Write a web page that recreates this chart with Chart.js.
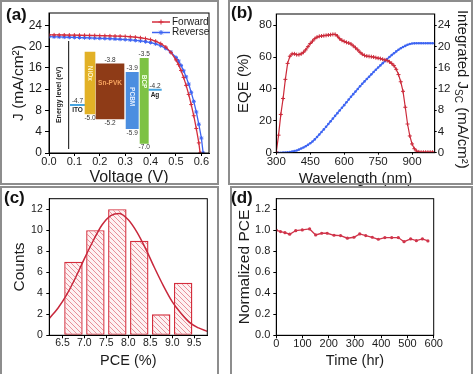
<!DOCTYPE html>
<html>
<head>
<meta charset="utf-8">
<script src="https://cdn.jsdelivr.net/npm/chart.js@4.4.0/dist/chart.umd.min.js"></script>
<style>
  body { margin: 0; background: #fff; width: 474px; height: 374px; overflow: hidden; position: relative; }
  canvas { position: absolute; }
  .frame { position: absolute; border: 2px solid #8d8d8d; box-sizing: border-box; z-index: 5; }
  .tag { position: absolute; z-index: 6; font: bold 17px 'Liberation Sans', Arial, sans-serif; color: #111; line-height: 1; }
</style>
</head>
<body>
<div class="frame" style="left:0;top:0;width:219px;height:185px"></div>
<div class="frame" style="left:228px;top:0;width:245px;height:185px"></div>
<div class="frame" style="left:0;top:186px;width:219px;height:192px"></div>
<div class="frame" style="left:230px;top:186px;width:243px;height:192px"></div>

<canvas id="jv" style="left:0;top:0" width="218" height="190"></canvas>
<canvas id="bands" style="left:52px;top:36px;z-index:2" width="112" height="118"></canvas>
<canvas id="eqe" style="left:229px;top:0" width="244" height="190"></canvas>
<canvas id="hist" style="left:0;top:187px" width="218" height="187"></canvas>
<canvas id="stab" style="left:231px;top:187px" width="242" height="187"></canvas>

<div class="tag" style="left:6px;top:6px">(a)</div>
<div class="tag" style="left:231px;top:4px">(b)</div>
<div class="tag" style="left:4px;top:189px">(c)</div>
<div class="tag" style="left:231px;top:189px">(d)</div>

<script>
// ---- (a) J-V curves ----
const voltF = [0,0.02,0.04,0.06,0.08,0.10,0.12,0.14,0.16,0.18,0.20,0.22,0.24,0.26,0.28,0.30,0.32,0.34,0.36,0.38,0.40,
  0.42,0.44,0.46,0.48,0.50,0.51,0.52,0.53,0.54,0.55,0.56,0.57,0.58,0.59,0.595];
const jForward = [22.2,22.19,22.18,22.17,22.15,22.14,22.12,22.11,22.09,22.07,22.05,22.03,22.0,21.97,21.94,21.9,21.84,21.76,21.65,21.5,21.3,
  21.0,20.55,19.9,18.9,17.5,16.6,15.5,14.2,12.7,11.0,9.1,7.0,4.6,1.9,0];
const voltR = [0,0.02,0.04,0.06,0.08,0.10,0.12,0.14,0.16,0.18,0.20,0.22,0.24,0.26,0.28,0.30,0.32,0.34,0.36,0.38,0.40,
  0.42,0.44,0.46,0.48,0.50,0.51,0.52,0.53,0.54,0.55,0.56,0.57,0.58,0.59,0.60,0.607];
const jReverse = [21.85,21.82,21.8,21.77,21.74,21.71,21.68,21.65,21.62,21.58,21.55,21.51,21.47,21.42,21.37,21.31,21.24,21.15,21.05,20.92,20.75,
  20.5,20.15,19.65,18.95,17.95,17.3,16.45,15.45,14.3,12.95,11.4,9.7,7.7,5.4,2.8,0];
const jvXTicks = ['0.0','0.1','0.2','0.3','0.4','0.5','0.6'];
const jvYTicks = ['0','4','8','12','16','20','24'];

// inset energy diagram (levels as drawn in the sketch, labels as printed)
const bandNames = ['NiOx', 'Sn-PVK', 'PCBM', 'BCP'];
const bandTopLevel = [-3.25, -3.73, -4.08, -3.5];
const bandBottomLevel = [-5.79, -5.99, -6.40, -7.0];
const bandTopLabel = ['', '-3.8', '-3.9', '-3.5'];
const bandBottomLabel = ['-5.0', '-5.2', '-5.9', '-7.0'];
const electrodeNames = ['ITO', 'Ag'];
const electrodeLevel = [-5.42, -4.80];
const electrodeLabel = ['-4.7', '-4.2'];

// ---- (b) EQE and integrated Jsc ----
const wavelength = [300,310,320,330,340,350,360,370,380,390,400,410,420,430,440,450,460,470,480,490,
  500,510,520,530,540,550,560,570,580,590,600,610,620,630,640,650,660,670,680,690,
  700,710,720,730,740,750,760,770,780,790,800,810,820,830,840,850,860,870,880,890,
  900,910,920,930,940,950,960,970,980,990,1000];
const eqe = [0.5,11,24,34,46,56,60.5,62,62,61.5,61.5,62,63,64.5,66.5,68.5,70,71.5,72.5,73,
  73.2,73.4,73.6,73.8,74,74.2,74.2,73.2,71.5,70.5,69.8,69.2,68.8,68.2,67,65.8,64.5,63,61.8,61,
  60.6,60.4,60.2,60,59.6,59.3,59,58.6,58.2,57.8,57,56,54.6,52.3,49,44.5,38.5,28.5,18,10.5,
  5.5,2.5,1,0.5,0.3,0.3,0.3,0.3,0.3,0.3,0.3];
const jscInt = [0,0,0,0.02,0.05,0.08,0.12,0.2,0.3,0.42,0.58,0.78,0.98,1.2,1.48,1.78,2.12,2.5,2.95,3.42,
  3.9,4.38,4.88,5.4,5.9,6.42,6.93,7.44,7.95,8.45,8.95,9.48,10.0,10.52,11.02,11.5,12.0,12.5,12.97,13.42,
  13.87,14.3,14.74,15.18,15.6,16.02,16.43,16.84,17.23,17.62,18.0,18.37,18.72,19.06,19.36,19.65,19.9,20.1,20.3,20.45,
  20.55,20.58,20.6,20.6,20.6,20.6,20.6,20.6,20.6,20.6,20.6];
const eqeXTicks = ['300','450','600','750','900'];
const eqeYTicks = ['0','20','40','60','80'];
const jscYTicks = ['0','4','8','12','16','20','24'];

// ---- (c) PCE histogram ----
const pceBins = [6.75, 7.25, 7.75, 8.25, 8.75, 9.25];
const pceCounts = [7, 10, 12, 9, 2, 5];
const fitPce = [6.2,6.4,6.6,6.8,7.0,7.2,7.4,7.6,7.8,8.0,8.2,8.4,8.6,8.8,9.0,9.2,9.4,9.6,9.8];
const fitCounts = [1.6,2.6,3.9,5.5,7.3,9.0,10.5,11.4,11.6,11.0,9.8,8.2,6.4,4.7,3.2,2.1,1.2,0.7,0.37];
const pceXTicks = ['6.5','7.0','7.5','8.0','8.5','9.0','9.5'];
const countYTicks = ['0','2','4','6','8','10','12'];

// ---- (d) stability ----
const hours = [0,16,33,51,74,99,127,150,173,194,220,245,271,296,318,341,366,389,414,440,465,487,512,534,557,578];
const normPce = [1.0,0.987,0.977,0.962,0.996,1.003,1.012,0.955,0.971,0.971,0.952,0.949,0.924,0.933,0.965,0.949,
  0.933,0.914,0.93,0.93,0.93,0.891,0.917,0.901,0.917,0.898];
const timeXTicks = ['0','100','200','300','400','500','600'];
const normYTicks = ['0.0','0.2','0.4','0.6','0.8','1.0','1.2'];

const FONT = "'Liberation Sans', Arial, Helvetica, sans-serif";
const INK = '#1b1b1b';
const RED = '#d42d3c';
const BLUE = '#3d64f2';

function axis(o) {
  return {
    type: 'linear', position: o.pos, min: o.min, max: o.max, offset: false,
    afterBuildTicks: s => { s.ticks = o.labels.map(t => ({ value: parseFloat(t) })); },
    afterFit: s => {
      if (s.isHorizontal()) s.height = o.fit; else s.width = o.fit;
      s.paddingLeft = 0; s.paddingRight = 0; s.paddingTop = 0; s.paddingBottom = 0;
    },
    ticks: {
      autoSkip: false, maxRotation: 0, padding: o.pad, color: INK,
      font: { family: FONT, size: o.size, lineHeight: 1 },
      callback: (v, i) => o.labels[i]
    },
    grid: { drawOnChartArea: false, drawTicks: true, offset: false, tickLength: o.tl, color: '#000', tickWidth: 1 },
    border: { display: true, color: '#000', width: 1 },
    title: o.title
      ? { display: true, text: o.title, color: INK, font: { family: FONT, size: o.tsize }, padding: o.tpad }
      : { display: false }
  };
}

const base = {
  responsive: false, animation: false, devicePixelRatio: 1,
  plugins: { legend: { display: false }, tooltip: { enabled: false } }
};

// box round the plot area
const frameBox = {
  id: 'frameBox',
  afterDraw(c) {
    const a = c.chartArea, ctx = c.ctx;
    ctx.save();
    ctx.strokeStyle = '#000';
    ctx.lineWidth = 1;
    ctx.strokeRect(a.left, a.top, a.right - a.left, a.bottom - a.top);
    ctx.restore();
  }
};

const jvLegend = {
  id: 'jvLegend',
  afterDraw(c) {
    const ctx = c.ctx;
    ctx.save();
    c.data.datasets.forEach((ds, i) => {
      const y = 22 + i * 10.5;
      ctx.strokeStyle = ds.borderColor;
      ctx.lineWidth = 1.5;
      ctx.beginPath(); ctx.moveTo(152, y); ctx.lineTo(170, y); ctx.stroke();
      if (Chart.helpers && Chart.helpers.drawPoint) {
        ctx.lineWidth = 1;
        Chart.helpers.drawPoint(ctx, { pointStyle: ds.pointStyle, radius: 2.5, borderWidth: 1, rotation: 0 }, 161, y);
      }
      ctx.fillStyle = INK;
      ctx.font = `10px ${FONT}`;
      ctx.textBaseline = 'middle';
      ctx.fillText(ds.label, 172, y);
    });
    ctx.restore();
  }
};

new Chart(document.getElementById('jv'), {
  type: 'line',
  data: {
    datasets: [
      { label: 'Forward', data: voltF.map((v, i) => ({ x: v, y: jForward[i] })),
        borderColor: RED, backgroundColor: RED, borderWidth: 1.3, pointStyle: 'cross',
        pointRadius: 2, pointBorderWidth: 1, pointBorderColor: RED },
      { label: 'Reverse', data: voltR.map((v, i) => ({ x: v, y: jReverse[i] })),
        borderColor: BLUE, backgroundColor: BLUE, borderWidth: 1.3, pointStyle: 'star',
        pointRadius: 2, pointBorderWidth: 1, pointBorderColor: BLUE }
    ]
  },
  options: {
    ...base,
    layout: { padding: { left: 0, top: 13, right: 9, bottom: 0 } },
    scales: {
      x: axis({ labels: jvXTicks, pos: 'bottom', min: 0, max: 0.63, fit: 37, size: 11, tl: 3, pad: 0,
        title: 'Voltage (V)', tsize: 16, tpad: { top: 0, bottom: 2.5 } }),
      y: axis({ labels: jvYTicks, pos: 'left', min: 0, max: 26.3, fit: 49, size: 12, tl: 4, pad: 3,
        title: 'J (mA/cm²)', tsize: 15.5, tpad: { top: 9, bottom: 0 } })
    }
  },
  plugins: [frameBox, jvLegend]
});

// inset: energy level diagram
const bandSlots = [
  { cx: 21, w: 10, color: '#e2b126', text: '#fff4c8', nameAt: -4.12, rot: true },
  { cx: 41, w: 28, color: '#8e3b17', text: '#f6a35e', nameAt: -4.53, rot: false },
  { cx: 63.2, w: 12.3, color: '#4b8ee0', text: '#e6f0ff', nameAt: -5.08, rot: true },
  { cx: 75.2, w: 8.3, color: '#7dc244', text: '#f2ffe6', nameAt: -4.46, rot: true }
];
const electrodeSlots = [{ x0: 1, x1: 16 }, { x0: 79.3, x1: 92.7 }];

const bandText = {
  id: 'bandText',
  afterDatasetsDraw(c) {
    const ctx = c.ctx, X = c.scales.x, Y = c.scales.y;
    ctx.save();
    ctx.textAlign = 'center';
    ctx.textBaseline = 'middle';
    bandNames.forEach((n, i) => {
      const s = bandSlots[i];
      const x = X.getPixelForValue(s.cx);
      ctx.font = `6.5px ${FONT}`;
      ctx.fillStyle = '#333';
      if (bandTopLabel[i]) ctx.fillText(bandTopLabel[i], x, Y.getPixelForValue(bandTopLevel[i]) - 4);
      ctx.fillText(bandBottomLabel[i], x, Y.getPixelForValue(bandBottomLevel[i]) + 4);
      ctx.save();
      ctx.font = `bold 6.5px ${FONT}`;
      ctx.fillStyle = s.text;
      ctx.translate(x, Y.getPixelForValue(s.nameAt));
      if (s.rot) ctx.rotate(Math.PI / 2);
      ctx.fillText(n, 0, 0);
      ctx.restore();
    });
    electrodeNames.forEach((n, i) => {
      const e = electrodeSlots[i];
      const x = X.getPixelForValue((e.x0 + e.x1) / 2);
      const y = Y.getPixelForValue(electrodeLevel[i]);
      ctx.font = `6.5px ${FONT}`;
      ctx.fillStyle = '#333';
      ctx.fillText(electrodeLabel[i], x, y - 4);
      ctx.font = `bold 6.5px ${FONT}`;
      ctx.fillStyle = '#222';
      ctx.fillText(n, x, y + 5.5);
    });
    ctx.restore();
  }
};

new Chart(document.getElementById('bands'), {
  type: 'bar',
  data: {
    datasets: bandNames.map((n, i) => ({
      type: 'bar', label: n,
      data: [{ x: bandSlots[i].cx, y: [bandBottomLevel[i], bandTopLevel[i]] }],
      backgroundColor: bandSlots[i].color, borderWidth: 0,
      barThickness: bandSlots[i].w, grouped: false
    })).concat(electrodeNames.map((n, i) => ({
      type: 'line', label: n,
      data: [{ x: electrodeSlots[i].x0, y: electrodeLevel[i] }, { x: electrodeSlots[i].x1, y: electrodeLevel[i] }],
      borderColor: '#45a4e0', borderWidth: 2, pointRadius: 0
    })))
  },
  options: {
    ...base,
    layout: { padding: { left: 0, top: 5.7, right: 2, bottom: 6 } },
    scales: {
      x: { type: 'linear', min: 0, max: 93, offset: false, display: false },
      y: {
        type: 'linear', min: -7.19, max: -2.82,
        afterFit: s => { s.width = 17; s.paddingTop = 0; s.paddingBottom = 0; },
        ticks: { display: false },
        grid: { drawOnChartArea: false, drawTicks: false },
        border: { display: true, color: '#333', width: 1.2 },
        title: { display: true, text: 'Energy level (eV)', color: '#222',
          font: { family: FONT, size: 7, weight: 'bold' }, padding: { top: 3, bottom: 0 } }
      }
    }
  },
  plugins: [bandText]
});

// ---- (b) ----
const jscTitle = {
  id: 'jscTitle',
  afterDraw(c) {
    const ctx = c.ctx, a = c.chartArea;
    const big = `15px ${FONT}`, small = `10px ${FONT}`;
    const parts = [['Integrated J', big, 0], ['SC', small, 4], [' (mA/cm²)', big, 0]];
    let total = 0;
    parts.forEach(p => { ctx.font = p[1]; total += ctx.measureText(p[0]).width; });
    ctx.save();
    ctx.translate(233, (a.top + a.bottom) / 2 + 6);
    ctx.rotate(Math.PI / 2);
    ctx.fillStyle = INK;
    ctx.textBaseline = 'middle';
    let x = -total / 2;
    parts.forEach(p => {
      ctx.font = p[1];
      ctx.fillText(p[0], x, p[2]);
      x += ctx.measureText(p[0]).width;
    });
    ctx.restore();
  }
};

new Chart(document.getElementById('eqe'), {
  type: 'line',
  data: {
    datasets: [
      { label: 'EQE', yAxisID: 'y', data: wavelength.map((w, i) => ({ x: w, y: eqe[i] })),
        borderColor: '#cc2a3a', borderWidth: 1.2, pointStyle: 'cross', pointRadius: 2,
        pointBorderWidth: 1, pointBorderColor: '#cc2a3a' },
      { label: 'Integrated Jsc', yAxisID: 'y1', data: wavelength.map((w, i) => ({ x: w, y: jscInt[i] })),
        borderColor: BLUE, backgroundColor: BLUE, borderWidth: 1.2, pointStyle: 'circle', pointRadius: 1.3,
        pointBorderWidth: 0, pointBackgroundColor: BLUE }
    ]
  },
  options: {
    ...base,
    layout: { padding: { left: 0, top: 14, right: 0, bottom: 0 } },
    scales: {
      x: axis({ labels: eqeXTicks, pos: 'bottom', min: 300, max: 1000, fit: 37.3, size: 11.5, tl: 2, pad: 1,
        title: 'Wavelength (nm)', tsize: 15, tpad: { top: 0, bottom: 2.5 } }),
      y: axis({ labels: eqeYTicks, pos: 'left', min: 0, max: 87, fit: 47.3, size: 11.5, tl: 3, pad: 1.5,
        title: 'EQE (%)', tsize: 15, tpad: { top: 6, bottom: 0 } }),
      y1: axis({ labels: jscYTicks, pos: 'right', min: 0, max: 26.1, fit: 38.3, size: 11.5, tl: 2, pad: 1 })
    }
  },
  plugins: [frameBox, jscTitle]
});

// ---- (c) ----
function hatch() {
  const p = document.createElement('canvas');
  p.width = 5; p.height = 5;
  const g = p.getContext('2d');
  g.fillStyle = '#fdf1f2';
  g.fillRect(0, 0, 5, 5);
  g.strokeStyle = 'rgba(212,52,68,0.65)';
  g.lineWidth = 0.8;
  g.beginPath();
  g.moveTo(0, 0); g.lineTo(5, 5);
  g.moveTo(-1, 4); g.lineTo(1, 6);
  g.moveTo(4, -1); g.lineTo(6, 1);
  g.stroke();
  return g.createPattern(p, 'repeat');
}

new Chart(document.getElementById('hist'), {
  type: 'bar',
  data: {
    datasets: [
      { type: 'line', label: 'fit', order: 0, data: fitPce.map((x, i) => ({ x, y: fitCounts[i] })),
        borderColor: '#c8283c', borderWidth: 1.5, pointRadius: 0, cubicInterpolationMode: 'monotone' },
      { type: 'bar', label: 'Counts', order: 1, data: pceBins.map((x, i) => ({ x, y: pceCounts[i] })),
        backgroundColor: hatch(), borderColor: '#d42d3c', borderWidth: 1.4, borderSkipped: false,
        barPercentage: 0.84, categoryPercentage: 1 }
    ]
  },
  options: {
    ...base,
    layout: { padding: { left: 0, top: 11.7, right: 10.7, bottom: 0 } },
    scales: {
      x: axis({ labels: pceXTicks, pos: 'bottom', min: 6.2, max: 9.8, fit: 38.7, size: 10.5, tl: 3, pad: 0,
        title: 'PCE (%)', tsize: 14.5, tpad: { top: 0, bottom: 4.5 } }),
      y: axis({ labels: countYTicks, pos: 'left', min: 0, max: 13, fit: 49.3, size: 10.5, tl: 3, pad: 3.5,
        title: 'Counts', tsize: 15.5, tpad: { top: 10.5, bottom: 0 } })
    }
  },
  plugins: [frameBox]
});

// ---- (d) ----
new Chart(document.getElementById('stab'), {
  type: 'line',
  data: {
    datasets: [
      { label: 'Normalized PCE', data: hours.map((h, i) => ({ x: h, y: normPce[i] })),
        borderColor: '#d0344a', backgroundColor: '#d0344a', borderWidth: 1.3,
        pointRadius: 1.6, pointBorderWidth: 0, pointBackgroundColor: '#d0344a' }
    ]
  },
  options: {
    ...base,
    layout: { padding: { left: 0, top: 11.7, right: 39.3, bottom: 0 } },
    scales: {
      x: axis({ labels: timeXTicks, pos: 'bottom', min: 0, max: 600, fit: 38.7, size: 11, tl: 3, pad: 0,
        title: 'Time (hr)', tsize: 14.5, tpad: { top: 0, bottom: 4.5 } }),
      y: axis({ labels: normYTicks, pos: 'left', min: 0, max: 1.3, fit: 45.3, size: 11, tl: 3, pad: 3,
        title: 'Normalized PCE', tsize: 15.5, tpad: { top: 4, bottom: 0 } })
    }
  },
  plugins: [frameBox]
});
</script>
</body>
</html>
